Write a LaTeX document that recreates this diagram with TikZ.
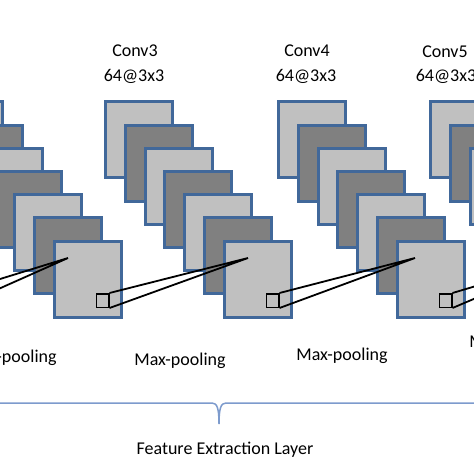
\documentclass[tikz,border=0pt]{standalone}
\usepackage{fontspec}
\setmainfont{Carlito}
\definecolor{edgeblue}{RGB}{65,104,154}
\definecolor{lightfill}{RGB}{192,192,192}
\definecolor{darkfill}{RGB}{128,128,128}
\definecolor{bracecol}{RGB}{125,155,205}
\tikzset{
  fmap/.style={draw=edgeblue, line width=3pt, rectangle, inner sep=0pt,
    minimum width=67pt, minimum height=76pt, anchor=north west},
  fmaplight/.style={fmap, fill=lightfill},
  fmapdark/.style={fmap, fill=darkfill},
  kernel/.style={draw=black, line width=1.5pt, rectangle, inner sep=0pt,
    minimum width=12.5pt, minimum height=13.5pt, anchor=north west},
  conn/.style={draw=black, line width=1.8pt},
  lbl/.style={font=\fontsize{18}{21.6}\selectfont, inner sep=0pt, anchor=base},
}
\begin{document}
\begin{tikzpicture}[x=1pt, y=-1pt]
\clip (0,0) rectangle (474,474);
\fill[white] (0,0) rectangle (474,474);
% stacks of feature maps
\foreach \s/\L in {c2/51, c3/221, c4/394, c5/546}{
  \foreach \k in {6,5,...,0}{
    \pgfmathtruncatemacro{\odd}{mod(\k,2)}
    \ifnum\odd=0
      \node[fmaplight] (\s-\k) at ({\L-19.67*\k+1.5},{238-23.2*\k+1.5}) {};
    \else
      \node[fmapdark] (\s-\k) at ({\L-19.67*\k+1.5},{238-23.2*\k+1.5}) {};
    \fi
  }
  \node[kernel] (\s-ker) at ({\L+44.5},293) {};
}
% apex points
\coordinate (c2-apex) at (68,258);
\coordinate (c3-apex) at (248,258);
\coordinate (c4-apex) at (415,258);
\coordinate (c5-apex) at (570,258);
\coordinate (c1-kne) at (-42,292);
\coordinate (c1-kse) at (-42,307);
% connectors
\draw[conn] (c1-kne) -- (c2-apex) -- (c1-kse);
\draw[conn] (c2-ker.north east) -- (c3-apex) -- (c2-ker.south east);
\draw[conn] (c3-ker.north east) -- (c4-apex) -- (c3-ker.south east);
\draw[conn] (c4-ker.north east) -- (c5-apex) -- (c4-ker.south east);
% top labels
\node[lbl] (t3a) at (135,56) {Conv3};
\node[lbl] (t3b) at (134,81) {64@3x3};
\node[lbl] (t4a) at (307,56) {Conv4};
\node[lbl] (t4b) at (306,81) {64@3x3};
\node[lbl] (t5a) at (445,57) {Conv5};
\node[lbl] (t5b) at (446,81) {64@3x3};
% bottom labels
\node[lbl] (p2) at (11,362) {Max-pooling};
\node[lbl] (p3) at (180,365) {Max-pooling};
\node[lbl] (p4) at (342,360) {Max-pooling};
\node[lbl] (p5) at (515,347) {Max-pooling};
% brace
\draw[bracecol, line width=1.5pt] (0,403) -- (212,403)
  .. controls (217,403) and (219,408) .. (219,424)
  .. controls (219,408) and (221,403) .. (226,403) -- (474,403);
\node[lbl] (fel) at (225,454) {Feature Extraction Layer};
\end{tikzpicture}
\end{document}
